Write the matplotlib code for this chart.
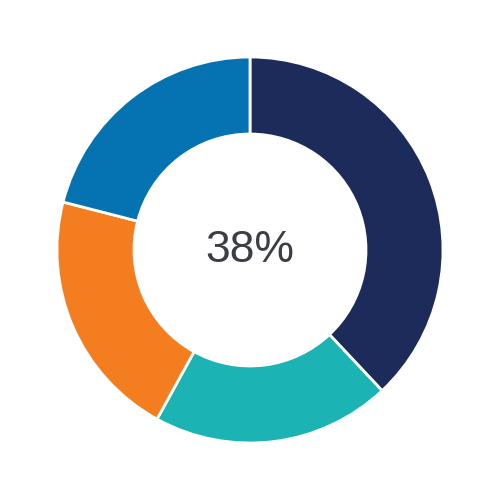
import matplotlib
matplotlib.use('Agg')
import matplotlib.pyplot as plt

# share of each segment, clockwise from the top
labels = ['A', 'B', 'C', 'D']
values = [38, 20, 21, 21]
colors = ['#1c2b59', '#1bb3b3', '#f47d20', '#0572b1']
center_text = '38%'

fig = plt.figure(figsize=(5, 5), dpi=100)
ax = fig.add_axes([0, 0, 1, 1])

ax.pie(values, colors=colors, startangle=90, counterclock=False,
       radius=0.772,
       wedgeprops=dict(width=0.308, edgecolor='white', linewidth=2))
ax.text(0, 0, center_text, ha='center', va='center', fontsize=32,
        color='#3b3f45', family='Liberation Sans')
ax.set_xlim(-1, 1)
ax.set_ylim(-1, 1)
ax.set_aspect('equal')
ax.axis('off')

plt.savefig('out.png', dpi=100, facecolor='white')
